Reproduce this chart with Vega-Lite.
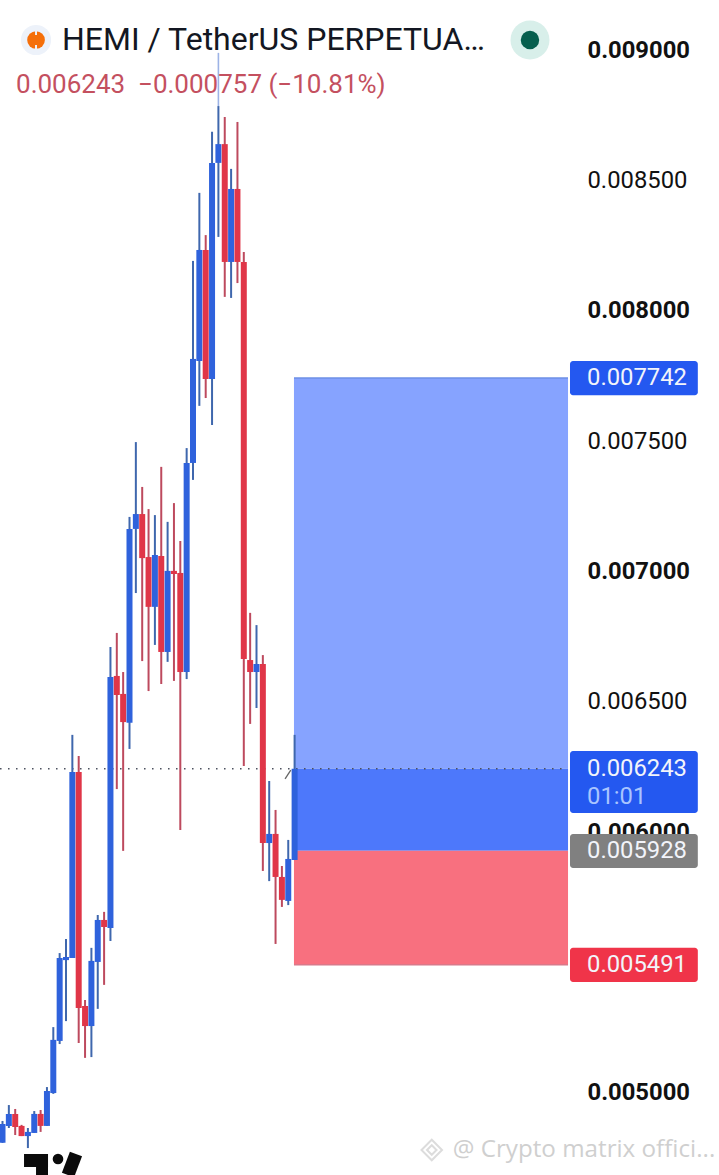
{
  "$schema": "https://vega.github.io/schema/vega-lite/v6.json",
  "width": 719,
  "height": 1175,
  "padding": 0,
  "autosize": {"type": "none"},
  "background": "white",
  "config": {"view": {"stroke": null}, "text": {"font": "Roboto"}},
  "datasets": {
    "wicks": [
      {"i":0,"price":0.004808,"price2":0.004892,"dir":"up"},
      {"i":1,"price":0.004865,"price2":0.004953,"dir":"up"},
      {"i":2,"price":0.004838,"price2":0.004938,"dir":"down"},
      {"i":3,"price":0.004834,"price2":0.004877,"dir":"down"},
      {"i":4,"price":0.004788,"price2":0.004865,"dir":"up"},
      {"i":5,"price":0.004846,"price2":0.004930,"dir":"up"},
      {"i":6,"price":0.004850,"price2":0.004934,"dir":"down"},
      {"i":7,"price":0.004873,"price2":0.005022,"dir":"up"},
      {"i":8,"price":0.004996,"price2":0.005252,"dir":"up"},
      {"i":9,"price":0.005187,"price2":0.005536,"dir":"up"},
      {"i":10,"price":0.005275,"price2":0.005590,"dir":"up"},
      {"i":11,"price":0.005517,"price2":0.006373,"dir":"up"},
      {"i":12,"price":0.005191,"price2":0.006292,"dir":"down"},
      {"i":13,"price":0.005134,"price2":0.005356,"dir":"down"},
      {"i":14,"price":0.005137,"price2":0.005556,"dir":"up"},
      {"i":15,"price":0.005322,"price2":0.005682,"dir":"up"},
      {"i":16,"price":0.005414,"price2":0.005694,"dir":"down"},
      {"i":17,"price":0.005582,"price2":0.006710,"dir":"up"},
      {"i":18,"price":0.006165,"price2":0.006764,"dir":"down"},
      {"i":19,"price":0.005928,"price2":0.006614,"dir":"down"},
      {"i":20,"price":0.006319,"price2":0.007209,"dir":"up"},
      {"i":21,"price":0.006917,"price2":0.007496,"dir":"up"},
      {"i":22,"price":0.006656,"price2":0.007324,"dir":"down"},
      {"i":23,"price":0.006541,"price2":0.007239,"dir":"down"},
      {"i":24,"price":0.006718,"price2":0.007216,"dir":"up"},
      {"i":25,"price":0.006568,"price2":0.007401,"dir":"down"},
      {"i":26,"price":0.006653,"price2":0.007190,"dir":"up"},
      {"i":27,"price":0.006580,"price2":0.007262,"dir":"down"},
      {"i":28,"price":0.006008,"price2":0.007117,"dir":"down"},
      {"i":29,"price":0.006587,"price2":0.007473,"dir":"up"},
      {"i":30,"price":0.007351,"price2":0.008191,"dir":"up"},
      {"i":31,"price":0.007635,"price2":0.008452,"dir":"up"},
      {"i":32,"price":0.007665,"price2":0.008290,"dir":"down"},
      {"i":33,"price":0.007562,"price2":0.008686,"dir":"up"},
      {"i":34,"price":0.008283,"price2":0.008785,"dir":"up"},
      {"i":35,"price":0.008053,"price2":0.008743,"dir":"down"},
      {"i":36,"price":0.008049,"price2":0.008544,"dir":"up"},
      {"i":37,"price":0.008106,"price2":0.008724,"dir":"down"},
      {"i":38,"price":0.006254,"price2":0.008225,"dir":"down"},
      {"i":39,"price":0.006415,"price2":0.006841,"dir":"down"},
      {"i":40,"price":0.006476,"price2":0.006794,"dir":"up"},
      {"i":41,"price":0.005851,"price2":0.006679,"dir":"down"},
      {"i":42,"price":0.005812,"price2":0.006196,"dir":"up"},
      {"i":43,"price":0.005571,"price2":0.006085,"dir":"down"},
      {"i":44,"price":0.005713,"price2":0.005870,"dir":"down"},
      {"i":45,"price":0.005720,"price2":0.005970,"dir":"up"},
      {"i":46,"price":0.005893,"price2":0.006373,"dir":"up"}
    ],
    "bodies": [
      {"i":0,"price":0.004808,"price2":0.004880,"dir":"up"},
      {"i":1,"price":0.004873,"price2":0.004919,"dir":"up"},
      {"i":2,"price":0.004919,"price2":0.004869,"dir":"down"},
      {"i":3,"price":0.004873,"price2":0.004834,"dir":"down"},
      {"i":4,"price":0.004834,"price2":0.004850,"dir":"up"},
      {"i":5,"price":0.004846,"price2":0.004919,"dir":"up"},
      {"i":6,"price":0.004919,"price2":0.004873,"dir":"down"},
      {"i":7,"price":0.004873,"price2":0.005007,"dir":"up"},
      {"i":8,"price":0.004999,"price2":0.005203,"dir":"up"},
      {"i":9,"price":0.005199,"price2":0.005517,"dir":"up"},
      {"i":10,"price":0.005509,"price2":0.005521,"dir":"up"},
      {"i":11,"price":0.005517,"price2":0.006231,"dir":"up"},
      {"i":12,"price":0.006231,"price2":0.005325,"dir":"down"},
      {"i":13,"price":0.005333,"price2":0.005256,"dir":"down"},
      {"i":14,"price":0.005256,"price2":0.005506,"dir":"up"},
      {"i":15,"price":0.005502,"price2":0.005663,"dir":"up"},
      {"i":16,"price":0.005663,"price2":0.005636,"dir":"down"},
      {"i":17,"price":0.005632,"price2":0.006595,"dir":"up"},
      {"i":18,"price":0.006599,"price2":0.006526,"dir":"down"},
      {"i":19,"price":0.006530,"price2":0.006422,"dir":"down"},
      {"i":20,"price":0.006419,"price2":0.007163,"dir":"up"},
      {"i":21,"price":0.007163,"price2":0.007220,"dir":"up"},
      {"i":22,"price":0.007220,"price2":0.007051,"dir":"down"},
      {"i":23,"price":0.007055,"price2":0.006864,"dir":"down"},
      {"i":24,"price":0.006864,"price2":0.007063,"dir":"up"},
      {"i":25,"price":0.007059,"price2":0.006691,"dir":"down"},
      {"i":26,"price":0.006691,"price2":0.007002,"dir":"up"},
      {"i":27,"price":0.007002,"price2":0.006990,"dir":"down"},
      {"i":28,"price":0.006994,"price2":0.006614,"dir":"down"},
      {"i":29,"price":0.006614,"price2":0.007416,"dir":"up"},
      {"i":30,"price":0.007416,"price2":0.007815,"dir":"up"},
      {"i":31,"price":0.007807,"price2":0.008233,"dir":"up"},
      {"i":32,"price":0.008233,"price2":0.007738,"dir":"down"},
      {"i":33,"price":0.007738,"price2":0.008567,"dir":"up"},
      {"i":34,"price":0.008567,"price2":0.008639,"dir":"up"},
      {"i":35,"price":0.008639,"price2":0.008187,"dir":"down"},
      {"i":36,"price":0.008187,"price2":0.008467,"dir":"up"},
      {"i":37,"price":0.008467,"price2":0.008187,"dir":"down"},
      {"i":38,"price":0.008187,"price2":0.006664,"dir":"down"},
      {"i":39,"price":0.006660,"price2":0.006614,"dir":"down"},
      {"i":40,"price":0.006614,"price2":0.006645,"dir":"up"},
      {"i":41,"price":0.006645,"price2":0.005958,"dir":"down"},
      {"i":42,"price":0.005958,"price2":0.005993,"dir":"up"},
      {"i":43,"price":0.005993,"price2":0.005828,"dir":"down"},
      {"i":44,"price":0.005828,"price2":0.005740,"dir":"down"},
      {"i":45,"price":0.005736,"price2":0.005897,"dir":"up"},
      {"i":46,"price":0.005893,"price2":0.006243,"dir":"up"}
    ]
  },
  "encoding": {
    "x": {
      "field": "i",
      "type": "quantitative",
      "scale": {"domain": [-0.394, 112.835], "nice": false, "zero": false, "padding": 0},
      "axis": null
    },
    "y": {
      "field": "price",
      "type": "quantitative",
      "scale": {"domain": [0.0046847, 0.0091918], "nice": false, "zero": false},
      "axis": {
        "title": null,
        "orient": "left",
        "domain": false,
        "ticks": false,
        "grid": false,
        "values": [0.005, 0.0055, 0.006, 0.0065, 0.007, 0.0075, 0.008, 0.0085, 0.009],
        "format": ".6f",
        "labelFont": "Roboto",
        "labelFontSize": 23.8,
        "labelColor": "#111111",
        "labelAlign": "left",
        "labelBaseline": "middle",
        "labelPadding": -587,
        "labelOverlap": false,
        "labelFontWeight": {"expr": "abs(datum.value * 1000 - round(datum.value * 1000)) < 0.01 ? 'bold' : 'normal'"}
      }
    }
  },
  "layer": [
    {
      "data": {"values": [{"i":45.9,"i2":89.06,"price":0.006243,"price2":0.007742}]},
      "mark": {"type": "rect", "color": "#86a3ff"},
      "encoding": {"x2": {"field": "i2"}, "y2": {"field": "price2"}}
    },
    {
      "data": {"values": [{"i":45.9,"i2":89.06,"price":0.005928,"price2":0.006243}]},
      "mark": {"type": "rect", "color": "#4d78fb"},
      "encoding": {"x2": {"field": "i2"}, "y2": {"field": "price2"}}
    },
    {
      "data": {"values": [{"i":45.9,"i2":89.06,"price":0.005491,"price2":0.005928}]},
      "mark": {"type": "rect", "color": "#f8707f"},
      "encoding": {"x2": {"field": "i2"}, "y2": {"field": "price2"}}
    },
    {
      "data": {"values": [{"i":45.9,"i2":89.06,"price":0.007742}]},
      "mark": {"type": "rule", "color": "#6c8fe6", "strokeWidth": 1.5},
      "encoding": {"x2": {"field": "i2"}}
    },
    {
      "data": {"values": [{"i":45.9,"i2":89.06,"price":0.005491}]},
      "mark": {"type": "rule", "color": "#d9798a", "strokeWidth": 1.5},
      "encoding": {"x2": {"field": "i2"}}
    },
    {
      "data": {"values": [{"i":-0.39,"i2":89.06,"price":0.006243}]},
      "mark": {"type": "rule", "color": "#4a4f5c", "strokeWidth": 1.5, "strokeDash": [1.5, 6.5]},
      "encoding": {"x2": {"field": "i2"}}
    },
    {
      "data": {"values": [{"i":44.5,"i2":45.4,"price":0.006204,"price2":0.006238}]},
      "mark": {"type": "rule", "color": "#666666", "strokeWidth": 1.3},
      "encoding": {"x2": {"field": "i2"}, "y2": {"field": "price2"}}
    },
    {
      "data": {"values": [{"i":34,"price":0.008785,"price2":0.008989}]},
      "mark": {"type": "rule", "color": "#9db3e6", "strokeWidth": 1.6},
      "encoding": {"y2": {"field": "price2"}}
    },
    {
      "data": {"name": "wicks"},
      "mark": {"type": "rule", "strokeWidth": 2},
      "encoding": {
        "y2": {"field": "price2"},
        "color": {"condition": {"test": "datum.dir == 'up'", "value": "#3f67ad"}, "value": "#bd4a5e"}
      }
    },
    {
      "data": {"name": "bodies"},
      "mark": {"type": "bar", "size": 6, "orient": "vertical"},
      "encoding": {
        "y2": {"field": "price2"},
        "color": {"condition": {"test": "datum.dir == 'up'", "value": "#2f62dc"}, "value": "#e03648"}
      }
    },
    {
      "data": {"values": [{"i":89.37,"i2":109.5,"price":0.007676,"price2":0.007807}]},
      "mark": {"type": "bar", "color": "#2458f0", "cornerRadius": 3},
      "encoding": {"x2": {"field": "i2"}, "y2": {"field": "price2"}}
    },
    {
      "data": {"values": [{"i":89.37,"i2":109.5,"price":0.006073,"price2":0.006311}]},
      "mark": {"type": "bar", "color": "#2458f0", "cornerRadius": 3},
      "encoding": {"x2": {"field": "i2"}, "y2": {"field": "price2"}}
    },
    {
      "data": {"values": [{"i":89.37,"i2":109.5,"price":0.005862,"price2":0.005993}]},
      "mark": {"type": "bar", "color": "#808080", "cornerRadius": 3},
      "encoding": {"x2": {"field": "i2"}, "y2": {"field": "price2"}}
    },
    {
      "data": {"values": [{"i":89.37,"i2":109.5,"price":0.005425,"price2":0.005556}]},
      "mark": {"type": "bar", "color": "#f03449", "cornerRadius": 3},
      "encoding": {"x2": {"field": "i2"}, "y2": {"field": "price2"}}
    },
    {
      "data": {"values": [
        {"i":92.05,"price":0.007742,"label":"0.007742"},
        {"i":92.05,"price":0.006243,"label":"0.006243"},
        {"i":92.05,"price":0.005928,"label":"0.005928"},
        {"i":92.05,"price":0.005491,"label":"0.005491"}
      ]},
      "mark": {"type": "text", "align": "left", "baseline": "middle", "fontSize": 23.8, "color": "#f2f4fa"},
      "encoding": {"text": {"field": "label"}}
    },
    {
      "data": {"values": [{"i":92.05,"price":0.006134,"label":"01:01"}]},
      "mark": {"type": "text", "align": "left", "baseline": "middle", "fontSize": 23.8, "color": "#a9c4ff"},
      "encoding": {"text": {"field": "label"}}
    },
    {
      "data": {"values": [{"i":9.37,"price":0.0090384,"label":"HEMI / TetherUS PERPETUA…"}]},
      "mark": {"type": "text", "align": "left", "baseline": "middle", "fontSize": 32, "color": "#131722"},
      "encoding": {"text": {"field": "label"}}
    },
    {
      "data": {"values": [
        {"i":2.13,"price":0.0088658,"label":"0.006243"},
        {"i":21.34,"price":0.0088658,"label":"−0.000757 (−10.81%)"}
      ]},
      "mark": {"type": "text", "align": "left", "baseline": "middle", "fontSize": 26, "color": "#c4505f"},
      "encoding": {"text": {"field": "label"}}
    },
    {
      "data": {"values": [{"i":5.28,"price":0.0090384}]},
      "mark": {"type": "point", "shape": "circle", "filled": true, "opacity": 1, "size": 908, "color": "#edf2fa"}
    },
    {
      "data": {"values": [{"i":5.28,"price":0.0090384}]},
      "mark": {"type": "point", "shape": "circle", "filled": true, "opacity": 1, "size": 314, "color": "#f56f0a"}
    },
    {
      "data": {"values": [
        {"i":5.28,"price":0.0090767,"price2":0.0090575},
        {"i":5.28,"price":0.0090192,"price2":0.0090000}
      ]},
      "mark": {"type": "rule", "color": "#edf2fa", "strokeWidth": 2},
      "encoding": {"y2": {"field": "price2"}}
    },
    {
      "data": {"values": [{"i":83.07,"price":0.0090384}]},
      "mark": {"type": "point", "shape": "circle", "filled": true, "opacity": 1, "size": 1520, "color": "#d8efea"}
    },
    {
      "data": {"values": [{"i":83.07,"price":0.0090384}]},
      "mark": {"type": "point", "shape": "circle", "filled": true, "opacity": 1, "size": 340, "color": "#065f4e"}
    },
    {
      "data": {"values": [
        {"i":3.39,"i2":7.17,"price":0.0047154,"price2":0.0047653},
        {"i":5.28,"i2":7.17,"price":0.0046847,"price2":0.0047154}
      ]},
      "mark": {"type": "rect", "color": "#0b0b0b"},
      "encoding": {"x2": {"field": "i2"}, "y2": {"field": "price2"}}
    },
    {
      "data": {"values": [{"i":8.74,"price":0.004746}]},
      "mark": {"type": "point", "shape": "circle", "filled": true, "opacity": 1, "size": 113, "color": "#0b0b0b"}
    },
    {
      "data": {"values": [{"i":11.57,"i2":10.31,"price":0.0047653,"price2":0.0046847}]},
      "mark": {"type": "rule", "color": "#0b0b0b", "strokeWidth": 13},
      "encoding": {"x2": {"field": "i2"}, "y2": {"field": "price2"}}
    },
    {
      "data": {"values": [{"i":70.9,"price":0.0047806,"label":"@ Crypto matrix offici..."}]},
      "mark": {"type": "text", "font": "Open Sans", "align": "left", "baseline": "middle", "fontSize": 24.2, "color": "#cfcfcf"},
      "encoding": {"text": {"field": "label"}}
    },
    {
      "data": {"values": [{"i":67.6,"price":0.0047806}]},
      "mark": {"type": "point", "shape": "diamond", "filled": false, "opacity": 1, "size": 420, "color": "#dcdcdc", "strokeWidth": 2}
    },
    {
      "data": {"values": [{"i":67.6,"price":0.0047806}]},
      "mark": {"type": "point", "shape": "diamond", "filled": false, "opacity": 1, "size": 90, "color": "#dcdcdc", "strokeWidth": 2}
    }
  ]
}
